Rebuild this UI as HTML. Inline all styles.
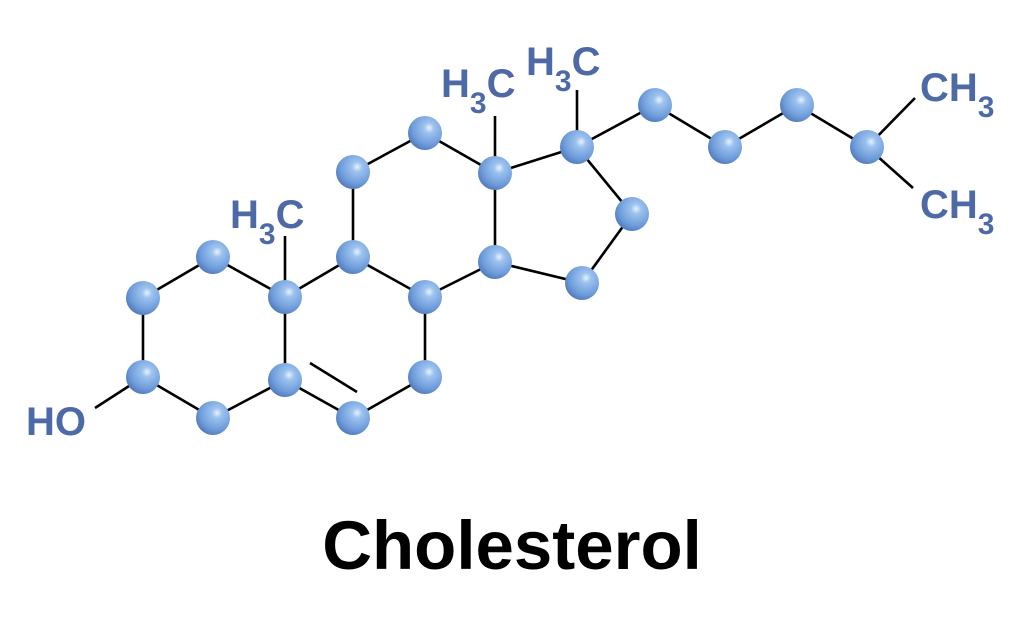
<!DOCTYPE html>
<html><head><meta charset="utf-8"><style>
html,body{margin:0;padding:0;background:#fff;}
svg{display:block}
text{font-family:"Liberation Sans",Arial,sans-serif;font-weight:bold;}
</style></head><body>
<svg width="1024" height="628" viewBox="0 0 1024 628" xmlns="http://www.w3.org/2000/svg">
<defs>
<radialGradient id="g" cx="0.62" cy="0.35" r="0.75">
<stop offset="0" stop-color="#e8f2ff"/>
<stop offset="0.2" stop-color="#9cc2ee"/>
<stop offset="0.65" stop-color="#6f9ddb"/>
<stop offset="1" stop-color="#4a6fb0"/>
</radialGradient>
</defs>
<g stroke="#000" stroke-width="2.6" fill="none">
<polyline points="143,298 213,257 285,297 285,380 213,418 143,377 143,298"/>
<polyline points="285,297 353,257 425,297 425,377 353,418 285,380"/>
<polyline points="353,257 353,172 425,133 495,173 495,262 425,297"/>
<polyline points="495,173 577,147 632,214 582,283 495,262"/>
<polyline points="577,147 655,105 725,147 797,105 867,147"/>
<line x1="867" y1="147" x2="915" y2="98"/>
<line x1="867" y1="147" x2="913" y2="188"/>
<line x1="285" y1="297" x2="285" y2="236"/>
<line x1="495" y1="173" x2="495" y2="116"/>
<line x1="577" y1="147" x2="577" y2="90"/>
<line x1="143" y1="377" x2="95" y2="408"/>
<line x1="310" y1="363" x2="357" y2="392"/>
</g>
<g fill="url(#g)">
<circle cx="143" cy="298" r="17"/><circle cx="213" cy="257" r="17"/><circle cx="285" cy="297" r="17"/>
<circle cx="285" cy="380" r="17"/><circle cx="213" cy="418" r="17"/><circle cx="143" cy="377" r="17"/>
<circle cx="353" cy="257" r="17"/><circle cx="425" cy="297" r="17"/><circle cx="425" cy="377" r="17"/>
<circle cx="353" cy="418" r="17"/><circle cx="353" cy="172" r="17"/><circle cx="425" cy="133" r="17"/>
<circle cx="495" cy="173" r="17"/><circle cx="495" cy="262" r="17"/><circle cx="577" cy="147" r="17"/>
<circle cx="632" cy="214" r="17"/><circle cx="582" cy="283" r="17"/><circle cx="655" cy="105" r="17"/>
<circle cx="725" cy="147" r="17"/><circle cx="797" cy="105" r="17"/><circle cx="867" cy="147" r="17"/>
</g>
<g fill="#4d6aa6">
<text x="230" y="228" font-size="40">H<tspan font-size="30" dy="16">3</tspan><tspan dy="-16">C</tspan></text>
<text x="441" y="97" font-size="40">H<tspan font-size="30" dy="16">3</tspan><tspan dy="-16">C</tspan></text>
<text x="526" y="75" font-size="40">H<tspan font-size="30" dy="16">3</tspan><tspan dy="-16">C</tspan></text>
<text x="920" y="101" font-size="40">CH<tspan font-size="30" dy="16">3</tspan></text>
<text x="920" y="218" font-size="40">CH<tspan font-size="30" dy="16">3</tspan></text>
<text x="26" y="435" font-size="40">HO</text>
</g>
<text x="512" y="569" font-size="69" text-anchor="middle" fill="#000">Cholesterol</text>
</svg>
</body></html>
